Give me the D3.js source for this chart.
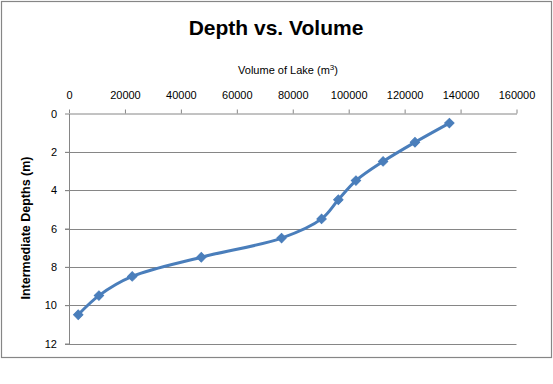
<!DOCTYPE html>
<html><head><meta charset="utf-8">
<script src="https://cdn.jsdelivr.net/npm/d3@7"></script>
<style>body{margin:0;background:#fff}svg{display:block}text{font-family:"Liberation Sans",Arial,sans-serif}</style>
</head><body><svg id="c" width="553" height="384"></svg>
<script>
const depths = [0.5, 1.5, 2.5, 3.5, 4.5, 5.5, 6.5, 7.5, 8.5, 9.5, 10.5];
const volumes = [136000, 123700, 112300, 102600, 96300, 90300, 76000, 47300, 22600, 10700, 3300];
const xTicks = [0, 20000, 40000, 60000, 80000, 100000, 120000, 140000, 160000];
const yTicks = [0, 2, 4, 6, 8, 10, 12];
const data = depths.map((d, i) => ({depth: d, vol: volumes[i]}));

const svg = d3.select("#c");
const L = 69, R = 516.5, T = 113.5, B = 343.5;
const x = d3.scaleLinear().domain([0, 160000]).range([L, R]);
const y = d3.scaleLinear().domain([0, 12]).range([T, B]);
const grey = "#868686";

svg.append("rect").attr("x", 1.5).attr("y", 1.5).attr("width", 550).attr("height", 356)
  .attr("fill", "#fff").attr("stroke", grey).attr("stroke-width", 1.2);

// gridlines
svg.append("g").selectAll("line").data(yTicks.filter(t => t > 0)).join("line")
  .attr("x1", L - 4).attr("x2", R).attr("y1", d => Math.round(y(d)) + 0.5).attr("y2", d => Math.round(y(d)) + 0.5)
  .attr("stroke", grey).attr("stroke-width", 1);

// x axis on top
const xa = svg.append("g").attr("transform", `translate(0,${T})`)
  .call(d3.axisTop(x).tickValues(xTicks).tickSize(4).tickSizeOuter(0).tickFormat(d3.format("d")).tickPadding(11));
xa.select(".domain").attr("stroke", grey);
xa.selectAll(".tick line").attr("stroke", grey);
xa.selectAll("text").attr("font-size", 11).attr("fill", "#000");

// y axis
const ya = svg.append("g").attr("transform", `translate(${L},0)`)
  .call(d3.axisLeft(y).tickValues(yTicks).tickSize(4).tickSizeOuter(0).tickPadding(8));
ya.select(".domain").attr("stroke", grey);
ya.selectAll(".tick line").attr("stroke", grey);
ya.selectAll("text").attr("font-size", 11).attr("fill", "#000");

// line
const line = d3.line().x(d => x(d.vol)).y(d => y(d.depth)).curve(d3.curveCatmullRom.alpha(0.5));
svg.append("path").datum(data).attr("d", line).attr("fill", "none")
  .attr("stroke", "#4A7EBB").attr("stroke-width", 3).attr("stroke-linejoin", "round");

svg.append("g").selectAll("path").data(data).join("path")
  .attr("d", d3.symbol(d3.symbolSquare, 44)())
  .attr("transform", d => `translate(${x(d.vol)},${y(d.depth)}) rotate(45)`)
  .attr("fill", "#4A7EBB").attr("stroke", "#4A7EBB").attr("stroke-width", 1);

// titles
svg.append("text").attr("x", 276).attr("y", 35).attr("text-anchor", "middle")
  .attr("font-size", 21).attr("font-weight", "bold").text("Depth vs. Volume");
const xt = svg.append("text").attr("x", 288).attr("y", 74).attr("text-anchor", "middle").attr("font-size", 11);
xt.append("tspan").text("Volume of Lake  (m");
xt.append("tspan").attr("font-size", 8).attr("dy", -4).text("3");
xt.append("tspan").attr("dy", 4).text(")");
svg.append("text").attr("transform", "translate(30,228) rotate(-90)").attr("text-anchor", "middle")
  .attr("font-size", 12.5).attr("font-weight", "bold").text("Intermediate Depths (m)");
</script></body></html>
